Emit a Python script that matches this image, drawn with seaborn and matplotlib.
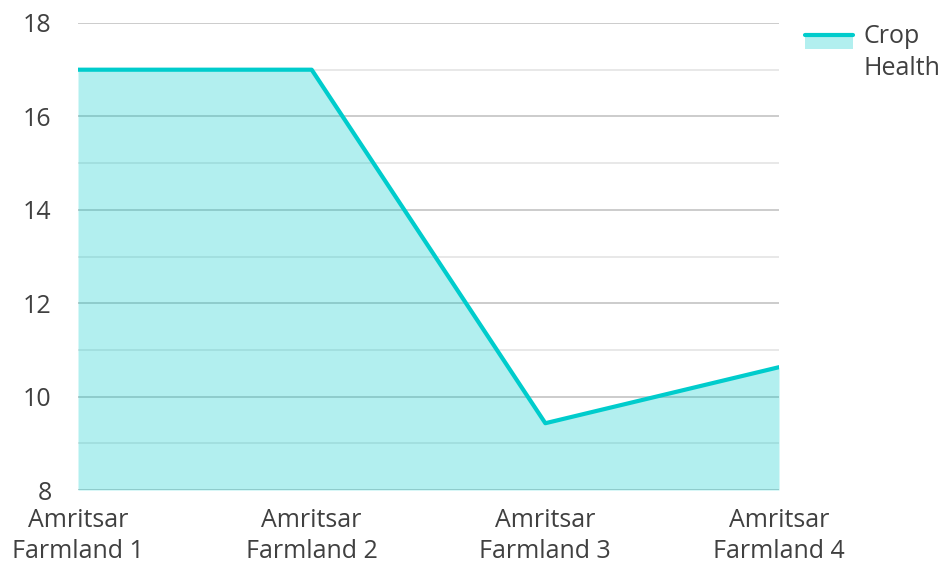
import pandas as pd
import seaborn as sns
import matplotlib.pyplot as plt
from matplotlib.patches import Rectangle
from matplotlib.lines import Line2D
from matplotlib.legend_handler import HandlerBase

farms = ["Amritsar\nFarmland 1", "Amritsar\nFarmland 2", "Amritsar\nFarmland 3", "Amritsar\nFarmland 4"]
crop_health = [17.0, 17.0, 9.43, 10.63]
y_ticks = [8, 10, 12, 14, 16, 18]
y_minor = [9, 11, 13, 15, 17]

teal = "#00cccc"
text_color = "#404040"

df = pd.DataFrame({"pos": range(len(farms)), "farm": farms, "health": crop_health})

sns.set_theme(style="white")
plt.rcParams['font.family'] = ['Open Sans', 'DejaVu Sans']


class AreaHandler(HandlerBase):
    # filled box with the line along its top edge, lined up with the first text line
    def create_artists(self, legend, orig_handle, xdescent, ydescent, width, height, fontsize, trans):
        h = fontsize * 0.55
        y0 = -ydescent + (height - h) / 2 + fontsize * 0.45
        rect = Rectangle((-xdescent, y0), width, h, facecolor=teal, alpha=0.3,
                         edgecolor="none", transform=trans)
        line = Line2D([-xdescent, -xdescent + width], [y0 + h, y0 + h], color=teal,
                      lw=3, transform=trans)
        return [rect, line]


fig = plt.figure(figsize=(9.42, 5.62), dpi=100)
ax = fig.add_axes([78 / 942, 1 - 490 / 562, (779 - 78) / 942, (490 - 23) / 562])

ax.fill_between(df["pos"], df["health"], 8, color=teal, alpha=0.3, lw=0, zorder=1)
sns.lineplot(data=df, x="pos", y="health", color=teal, linewidth=3, ax=ax, zorder=4)

ax.set_xlim(0, 3)
ax.set_ylim(8, 18)
ax.set_yticks(y_ticks)
ax.set_yticks(y_minor, minor=True)
ax.set_xticks(df["pos"])
ax.set_xticklabels(farms, linespacing=1.3)
ax.set_axisbelow(True)
ax.grid(axis="y", which="major", color="#c8c8c8", lw=1.3)
ax.grid(axis="y", which="minor", color="#e6e6e6", lw=1.3)
ax.grid(axis="x", visible=False)
ax.set_xlabel("")
ax.set_ylabel("")
for s in ax.spines.values():
    s.set_visible(False)
ax.tick_params(axis="y", which="both", length=0, pad=19, labelsize=18, labelcolor=text_color)
ax.tick_params(axis="x", length=0, pad=13, labelsize=18, labelcolor=text_color)

leg = fig.legend(handles=[object()], labels=["Crop\nHealth"], handler_map={object: AreaHandler()},
                 loc="upper left", bbox_to_anchor=(805 / 942, 1 - 24 / 562), frameon=False,
                 fontsize=18, labelcolor=text_color, handlelength=1.9, handletextpad=0.45,
                 borderpad=0, borderaxespad=0)
for t in leg.get_texts():
    t.set_linespacing(1.35)

fig.savefig("out.png", dpi=100)
